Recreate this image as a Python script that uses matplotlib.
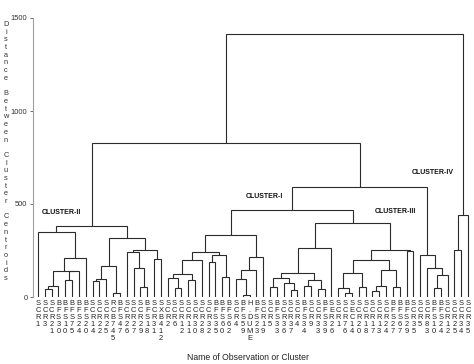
import matplotlib
matplotlib.use("Agg")
import matplotlib.pyplot as plt

plt.rcParams["font.family"] = ["Liberation Sans", "DejaVu Sans"]

# ---- data -------------------------------------------------------------
labels = ["SCR1", "SCR3", "SCR21", "BFS30", "BFS10", "BFS75", "BFS24", "BFS20",
          "SCR14", "SCR22", "SCR25", "RCB745", "BFS47", "SCR26", "SCR27", "SCR29",
          "BFS18", "SCR31", "SXB412", "SCR2", "SCR6", "SCR12", "SCR11", "SCR30",
          "SCR28", "SCR32", "BFS35", "BFS60", "BFS62", "SCR4", "BFS59", "H.DUME",
          "BFS23", "SCR19", "SCR5", "BFS33", "SCR36", "SCR37", "SCR4", "BFS34",
          "SCR9", "SCR33", "BFS39", "SER26", "SCR1", "SCR76", "SEC14", "SCR20",
          "SCR18", "SCR17", "SCR13", "SCR24", "BFS27", "BFS67", "BFS29", "SCR35",
          "SCR5", "SCR83", "BFS10", "BFS24", "SCR12", "SCR25", "SCR34", "SCR35"]

# merges: [height, left, right]; ints are leaf positions (0-based)
cluster_II = [382,
              [350, 0, [210, [140, [59, [43, 1, 2], 3], [138, [91, 4, 5], 6]], 7]],
              [317, [167, [97, [85, 8, 9], 10], [20, 11, 12]],
                    [255, [242, 13, [156, 14, [54, 15, 16]]], [204, 17, 18]]]]
cluster_I = [333,
             [242, [199, [122, [100, 19, [48, 20, 21]], [90, 22, 23]], 24],
                   [226, [190, 25, 26], [108, 27, 28]]],
             [215, [145, [97, 29, [11, 30, 31]], 32], 33]]
cluster_III = [398,
               [263, [130, [100, [54, 34, 35], [75, 36, [35, 37, 38]]],
                           [90, [60, 39, 40], [45, 41, 42]]], 43],
               [253, [199, [129, [48, 44, [22, 45, 46]], [54, 47, 48]],
                           [145, [60, [30, 49, 50], 51], [55, 52, 53]]],
                     [250, 54, 55]]]
group_P = [226, 56, [156, 57, [118, [48, 58, 59], 60]]]
cluster_IV = [441, [253, 61, 62], 63]
tree = [1414, [828, cluster_II, [591, [468, cluster_I, cluster_III], group_P]], cluster_IV]

yticks = [0, 500, 1000, 1500]
ylabel = "Distance Between Cluster Centroids"
xlabel = "Name of Observation or Cluster"
cluster_names = ["CLUSTER-II", "CLUSTER-I", "CLUSTER-III", "CLUSTER-IV"]

# ---- drawing ----------------------------------------------------------
W, H = 474, 364
fig = plt.figure(figsize=(W / 100, H / 100), dpi=100)
ax_left, ax_right, ax_top, ax_bot = 33, 472, 18, 297
ax = fig.add_axes([ax_left / W, 1 - ax_bot / H, (ax_right - ax_left) / W, (ax_bot - ax_top) / H])
n_leaves = len(labels)
lc = "#2b2b2b"


def draw(node):
    if isinstance(node, int):
        return float(node), 0.0
    h, l, r = node
    xl, hl = draw(l)
    xr, hr = draw(r)
    ax.plot([xl, xl, xr, xr], [hl, h, h, hr], color=lc, lw=0.8,
            solid_joinstyle="miter", solid_capstyle="butt")
    return (xl + xr) / 2.0, h


draw(tree)
sp = (468 - 38) / (n_leaves - 1)
ax.set_xlim(-(38 - ax_left) / sp, (n_leaves - 1) + (ax_right - 468) / sp)
ax.set_ylim(0, 1500)
ax.set_yticks(yticks)
ax.tick_params(axis="y", labelsize=5.4, length=2, colors="#555555", width=0.6, pad=2)
for t in ax.get_yticklabels():
    t.set_color("#333333")
for s in ["top", "right", "bottom"]:
    ax.spines[s].set_visible(False)
ax.spines["left"].set_color("#a0a0a0")
ax.spines["left"].set_linewidth(0.8)
ax.set_xticks([])

for i, lab in enumerate(labels):
    ax.text(i, -16, "\n".join(lab), ha="center", va="top", fontsize=5.4,
            linespacing=1.01, color="#222222")

fig.text(6 / W, 1 - 21 / H, "\n".join(ylabel), ha="center", va="top", fontsize=5.3,
         linespacing=1.14, color="#333333")
fig.text(248 / W, 1 - 362 / H, xlabel, ha="center", va="bottom", fontsize=6.2, color="#222222")

kw = dict(fontsize=5.0, fontweight="bold", va="center", ha="left", color="#111111")
ax.text(0.6, 452, cluster_names[0], **kw)
ax.text(30.5, 538, cluster_names[1], **kw)
ax.text(49.3, 457, cluster_names[2], **kw)
ax.text(54.8, 667, cluster_names[3], **kw)

fig.savefig("out.png", dpi=100)
